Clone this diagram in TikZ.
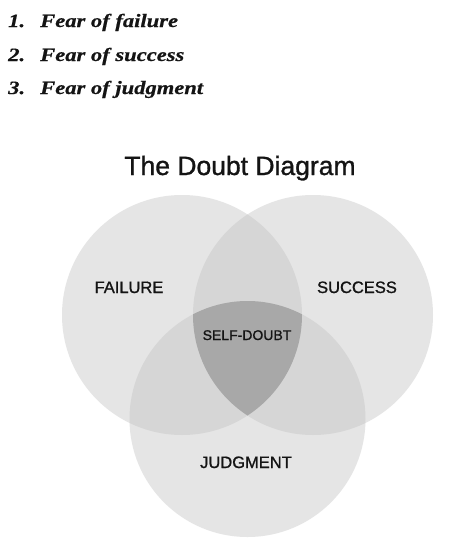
\documentclass[tikz,border=0pt]{standalone}
\usepackage{fontspec}
\setmainfont{Liberation Serif}
\newfontfamily\listfont{Liberation Serif}[FakeStretch=1.2, FakeBold=0.6]
\newfontfamily\labelfont{Liberation Sans}[FakeBold=1.1]
\definecolor{cone}{gray}{0.9}
\definecolor{ctwo}{gray}{0.84}
\definecolor{cthree}{gray}{0.66}
\definecolor{ink}{gray}{0.08}
\tikzset{
  listnum/.style={anchor=base west, inner sep=0pt, font=\listfont\fontsize{18.8}{20}\selectfont\bfseries\itshape, text=ink},
  setlabel/.style={anchor=base, inner sep=0pt, font=\labelfont\fontsize{16.5}{18}\selectfont, text=ink},
}
\begin{document}
\begin{tikzpicture}[x=1pt,y=-1pt]
\useasboundingbox (0,0) rectangle (474,555);
\fill[white] (0,0) rectangle (474,555);
% list
\node[listnum] (n1) at (8,27) {1.};
\node[listnum] (t1) at (40,27) {Fear of failure};
\node[listnum] (n2) at (8,61) {2.};
\node[listnum] (t2) at (40,61) {Fear of success};
\node[listnum] (n3) at (8,94) {3.};
\node[listnum] (t3) at (40,94) {Fear of judgment};
% title
\node[anchor=base, inner sep=0pt, font=\labelfont\fontsize{26.5}{30}\selectfont, text=ink] (title) at (240,175) {The Doubt Diagram};
% circles
\coordinate (L) at (182,315);
\coordinate (R) at (313,315);
\coordinate (B) at (247.5,419);
\fill[cone] (L) circle (120);
\fill[cone] (R) circle (120);
\fill[cone] (B) circle (118);
\begin{scope}
  \clip (L) circle (120);
  \fill[ctwo] (R) circle (120);
  \fill[ctwo] (B) circle (118);
\end{scope}
\begin{scope}
  \clip (R) circle (120);
  \fill[ctwo] (B) circle (118);
\end{scope}
\begin{scope}
  \clip (L) circle (120);
  \clip (R) circle (120);
  \fill[cthree] (B) circle (118);
\end{scope}
% labels
\node[setlabel] (failure) at (129,293) {FAILURE};
\node[setlabel] (success) at (357,293) {SUCCESS};
\node[setlabel, font=\labelfont\fontsize{14}{16}\selectfont] (selfdoubt) at (247,340) {SELF-DOUBT};
\node[setlabel] (judgment) at (246,468) {JUDGMENT};
\end{tikzpicture}
\end{document}
